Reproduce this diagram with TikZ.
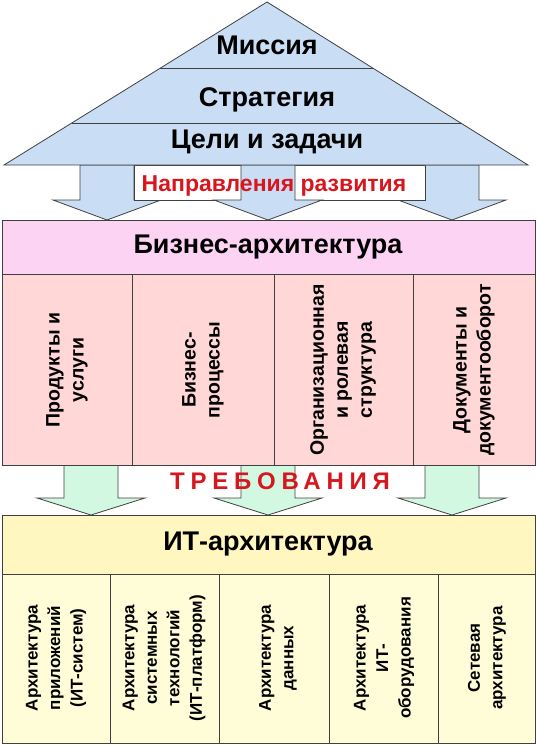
\documentclass[tikz,border=0pt]{standalone}
\usepackage{fontspec}
\setmainfont{Liberation Sans}
\newfontfamily\spacedfont[LetterSpace=24]{Liberation Sans}
\usetikzlibrary{calc}

\definecolor{pyramidblue}{HTML}{C9DDF4}
\definecolor{bizpink}{HTML}{FCD3F3}
\definecolor{bizrose}{HTML}{FFD7D7}
\definecolor{reqgreen}{HTML}{D3F8E2}
\definecolor{ityellow}{HTML}{FFF6C0}
\definecolor{itcream}{HTML}{FFFCD8}
\definecolor{labelred}{HTML}{D7161E}

\tikzset{
  frame/.style={draw=black!75, line width=0.8pt},
  title/.style={font=\fontsize{27}{32}\selectfont\bfseries},
  bizcol/.style={rotate=90, align=center, font=\fontsize{19.5}{24}\selectfont\bfseries},
  itcol/.style={rotate=90, align=center, font=\fontsize{17}{22.5}\selectfont\bfseries}
}

\begin{document}
\begin{tikzpicture}[x=1pt, y=-1pt]
\useasboundingbox (0,0) rectangle (537,745);

% arrows from the pyramid
\foreach \cx in {107,452}
  \draw[frame, fill=pyramidblue] (\cx-27,165) -- (\cx-27,200) -- (\cx-54,200) -- (\cx,220)
    -- (\cx+54,200) -- (\cx+27,200) -- (\cx+27,165) -- cycle;
\draw[frame, fill=white] (134,165) rectangle (425,200);
\draw[frame, fill=pyramidblue] (241,165) -- (241,200) -- (214,200) -- (268,220)
  -- (322,200) -- (295,200) -- (295,165) -- cycle;

% pyramid
\coordinate (apex) at (267,2);
\coordinate (pl) at (4,165);
\coordinate (pr) at (528,165);
\draw[frame, fill=pyramidblue] (apex) -- (pl) -- (pr) -- cycle;
\draw[frame] ($(apex)!0.405!(pl)$) -- ($(apex)!0.405!(pr)$);
\draw[frame] ($(apex)!0.742!(pl)$) -- ($(apex)!0.742!(pr)$);
\node[title] (mission) at (267,45) {Миссия};
\node[title] (strategy) at (267,100) {Стратегия};
\node[title] (goals) at (267,142) {Цели и задачи};
\node[font=\fontsize{23}{26}\selectfont\bfseries, text=labelred] (directions) at (274,186) {Направления развития};

% arrows to IT
\foreach \cx in {91,268,452}
  \draw[frame, fill=reqgreen] (\cx-27,465) -- (\cx-27,498) -- (\cx-54,498) -- (\cx,515)
    -- (\cx+54,498) -- (\cx+27,498) -- (\cx+27,465) -- cycle;
\node[font=\spacedfont\fontsize{24}{26}\selectfont\bfseries, text=labelred] (requirements) at (280,481) {ТРЕБОВАНИЯ};

% business architecture
\draw[frame, fill=bizpink] (2,220) rectangle (535,274);
\draw[frame, fill=bizrose] (2,274) rectangle (535,465);
\draw[frame] (132,274) -- (132,465) (274,274) -- (274,465) (413,274) -- (413,465);
\node[title] (biz) at (268,247) {Бизнес-архитектура};
\node[bizcol] (products) at (67,370) {Продукты и\\услуги};
\node[bizcol] (processes) at (203,370) {Бизнес-\\процессы};
\node[bizcol] (orgstruct) at (343,370) {Организационная\\и ролевая\\структура};
\node[bizcol] (documents) at (474,370) {Документы и\\документооборот};

% IT architecture
\draw[frame, fill=ityellow] (2,515) rectangle (535,574);
\draw[frame, fill=itcream] (2,574) rectangle (535,743);
\draw[frame] (110,574) -- (110,743) (219,574) -- (219,743) (329,574) -- (329,743) (438,574) -- (438,743);
\node[title] (itarch) at (268,544) {ИТ-архитектура};
\node[itcol] (apps) at (56,658) {Архитектура\\приложений\\(ИТ-систем)};
\node[itcol] (systech) at (164,658) {Архитектура\\системных\\технологий\\(ИТ-платформ)};
\node[itcol] (data) at (278,658) {Архитектура\\данных};
\node[itcol] (hardware) at (384,658) {Архитектура\\ИТ-\\оборудования};
\node[itcol] (network) at (487,658) {Сетевая\\архитектура};
\end{tikzpicture}
\end{document}
